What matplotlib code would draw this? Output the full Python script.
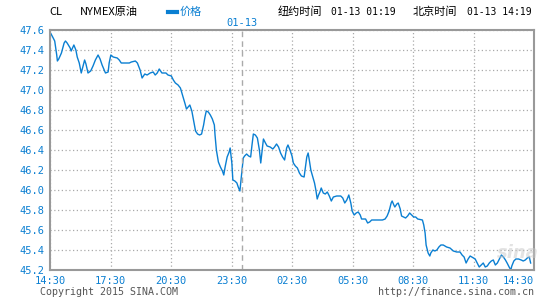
import matplotlib
matplotlib.use("Agg")
import matplotlib.pyplot as plt

# minutes since 14:30 Beijing time, and CL price
minutes = [0, 8, 14, 20, 22, 26, 34, 42, 46, 51, 60, 63, 71, 77, 81, 87, 93, 99,
           103, 107, 113, 121, 128, 135, 143, 149, 155, 165, 173, 176, 181, 188,
           200, 206, 212, 236, 242, 254, 260, 268, 274, 282, 289, 298, 307, 313,
           319, 325, 333, 345, 351, 361, 367, 373, 381, 388, 396, 402, 406, 411,
           416, 422, 428, 433, 439, 445, 451, 457, 461, 465, 471, 477, 483, 489,
           491, 495, 501, 507, 513, 517, 521, 527, 533, 536, 541, 544, 550, 556,
           560, 565, 570, 575, 579, 585, 591, 597, 601, 605, 611, 617, 623, 627,
           631, 635, 641, 646, 655, 663, 668, 674, 680, 686, 692, 698, 704, 708,
           714, 720, 724, 730, 736, 742, 748, 756, 764, 768, 771, 776, 782, 787,
           791, 795, 799, 803, 807, 813, 819, 825, 831, 837, 843, 853, 865, 871,
           877, 883, 889, 895, 899, 905, 911, 917, 923, 927, 939, 945, 951, 957,
           989, 997, 1003, 1009, 1015, 1018, 1023, 1026, 1032, 1036, 1042, 1046,
           1052, 1058, 1064, 1070, 1076, 1082, 1088, 1094, 1108, 1112, 1116, 1119,
           1125, 1130, 1133, 1139, 1145, 1151, 1157, 1163, 1170, 1180, 1190, 1200,
           1210, 1220, 1226, 1232, 1238, 1244, 1250, 1255, 1265, 1271, 1277, 1283,
           1289, 1295, 1301, 1307, 1313, 1319, 1325, 1331, 1337, 1343, 1349, 1355,
           1360, 1366, 1371, 1374, 1380, 1386, 1394, 1402, 1408, 1414, 1420, 1426,
           1430]
price = [47.58, 47.53, 47.49, 47.35, 47.29, 47.31, 47.37, 47.47, 47.49, 47.47,
         47.42, 47.39, 47.45, 47.40, 47.33, 47.27, 47.17, 47.25, 47.30, 47.26,
         47.17, 47.19, 47.24, 47.30, 47.35, 47.31, 47.25, 47.17, 47.18, 47.27,
         47.35, 47.33, 47.32, 47.30, 47.27, 47.27, 47.28, 47.29, 47.27, 47.20,
         47.12, 47.16, 47.15, 47.17, 47.18, 47.15, 47.17, 47.21, 47.17, 47.17,
         47.15, 47.14, 47.10, 47.07, 47.05, 47.02, 46.93, 46.86, 46.81, 46.83,
         46.85, 46.79, 46.68, 46.59, 46.56, 46.55, 46.56, 46.65, 46.73, 46.79,
         46.78, 46.75, 46.71, 46.65, 46.55, 46.40, 46.28, 46.23, 46.19, 46.15,
         46.23, 46.33, 46.38, 46.42, 46.27, 46.10, 46.09, 46.07, 46.03, 45.99,
         46.15, 46.32, 46.34, 46.36, 46.34, 46.33, 46.45, 46.56, 46.55, 46.52,
         46.40, 46.27, 46.39, 46.51, 46.47, 46.44, 46.43, 46.41, 46.43, 46.46,
         46.43, 46.37, 46.33, 46.30, 46.42, 46.45, 46.40, 46.34, 46.27, 46.24,
         46.22, 46.17, 46.14, 46.13, 46.33, 46.37, 46.31, 46.20, 46.13, 46.07,
         46.00, 45.91, 45.95, 45.98, 46.02, 45.97, 45.96, 45.98, 45.94, 45.89,
         45.93, 45.94, 45.94, 45.92, 45.87, 45.90, 45.95, 45.87, 45.79, 45.75,
         45.77, 45.78, 45.75, 45.71, 45.71, 45.67, 45.68, 45.70, 45.70, 45.71,
         45.74, 45.79, 45.87, 45.89, 45.85, 45.83, 45.86, 45.87, 45.81, 45.74,
         45.73, 45.72, 45.74, 45.77, 45.75, 45.73, 45.73, 45.71, 45.70, 45.65,
         45.57, 45.45, 45.37, 45.34, 45.37, 45.40, 45.39, 45.40, 45.43, 45.45,
         45.45, 45.43, 45.42, 45.39, 45.38, 45.38, 45.35, 45.33, 45.27, 45.31,
         45.34, 45.33, 45.31, 45.27, 45.23, 45.25, 45.27, 45.23, 45.24, 45.27,
         45.29, 45.30, 45.25, 45.27, 45.31, 45.35, 45.33, 45.30, 45.27, 45.23,
         45.20, 45.24, 45.29, 45.31, 45.31, 45.30, 45.29, 45.30, 45.32, 45.33,
         45.27]

x_ticks = [0, 180, 360, 540, 720, 900, 1080, 1260, 1440]
x_labels = ["14:30", "17:30", "20:30", "23:30", "02:30", "05:30", "08:30", "11:30", "14:30"]
y_ticks = [45.2, 45.4, 45.6, 45.8, 46.0, 46.2, 46.4, 46.6, 46.8, 47.0, 47.2, 47.4, 47.6]
day_break = 570  # 00:00 Beijing

BLUE = "#0a7fd2"
GREY = "#999999"
MONO = "DejaVu Sans Mono"
CJK = ["Noto Sans CJK SC", "DejaVu Sans"]

W, H = 540, 300
fig = plt.figure(figsize=(W / 100, H / 100), dpi=100)
fig.patch.set_facecolor("white")
ax = fig.add_axes([50 / W, 30 / H, 484 / W, 240 / H])

ax.plot(minutes, price, color=BLUE, linewidth=1.0)
ax.axvline(day_break, color="#aaaaaa", linestyle=(0, (4, 3)), linewidth=1.0)

ax.set_xlim(0, 1440)
ax.set_ylim(45.2, 47.6)
ax.set_xticks(x_ticks)
ax.set_xticklabels(x_labels)
ax.set_yticks(y_ticks)
ax.set_yticklabels(["%.1f" % v for v in y_ticks])
ax.tick_params(length=0, labelcolor=BLUE, labelsize=7.5, pad=4)
for lab in ax.get_xticklabels() + ax.get_yticklabels():
    lab.set_family(MONO)
ax.get_xticklabels()[-1].set_horizontalalignment("right")
ax.grid(True, color="#aaaaaa", linestyle=(0, (1, 2)), linewidth=0.9)
for s in ax.spines.values():
    s.set_color(GREY)
    s.set_linewidth(1.5)


def px_text(x, y, s, **kw):
    fig.text(x / W, 1 - y / H, s, va="center", **kw)


# header
px_text(49, 12, "CL", family=CJK, fontsize=8)
px_text(80, 12, "NYMEX原油", family=CJK, fontsize=8)
fig.add_artist(plt.Line2D([168 / W, 177 / W], [1 - 12 / H, 1 - 12 / H], color=BLUE, linewidth=3))
px_text(180, 12, "价格", family=CJK, fontsize=8, color=BLUE)
px_text(278, 12, "纽约时间", family=CJK, fontsize=8)
px_text(331, 12, "01-13 01:19", family=MONO, fontsize=7)
px_text(413, 12, "北京时间", family=CJK, fontsize=8)
px_text(467, 12, "01-13 14:19", family=MONO, fontsize=7)
px_text(242, 23, "01-13", family=MONO, fontsize=7.5, color=BLUE, ha="center")

# footer
px_text(40, 292, "Copyright 2015 SINA.COM", family=MONO, fontsize=7.2, color="#555555")
px_text(534, 292, "http://finance.sina.com.cn", family=MONO, fontsize=7.2, color="#555555", ha="right")

# faint watermark
px_text(518, 253, "sina", family="DejaVu Sans", fontsize=13, style="italic",
        weight="bold", color="#c8c8c8", alpha=0.5, ha="center")

fig.savefig("out.png", dpi=100)
